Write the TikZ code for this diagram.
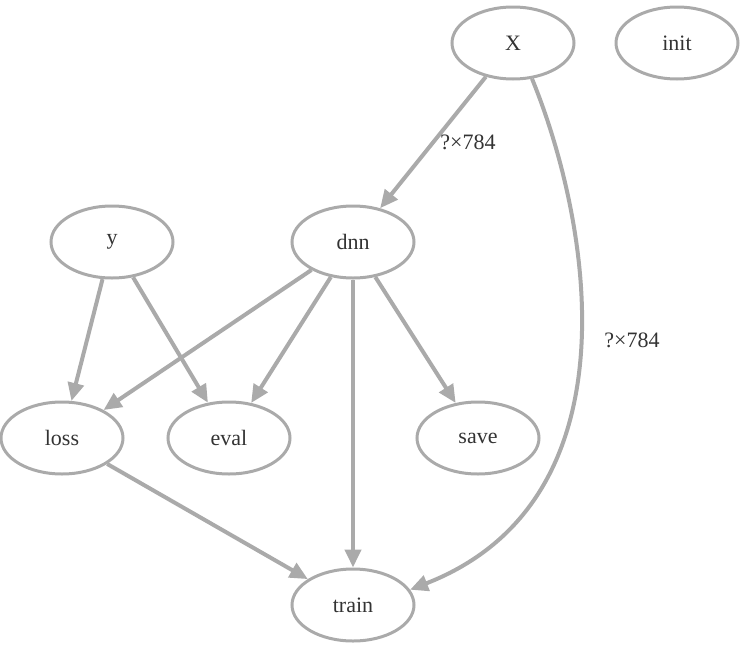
\documentclass[tikz,border=0pt]{standalone}
\usepackage{fontspec}
\setmainfont{Liberation Serif}
\usetikzlibrary{arrows.meta,shapes.geometric}
\definecolor{edg}{HTML}{AAAAAA}
\definecolor{txt}{HTML}{333333}
\begin{document}
\begin{tikzpicture}[x=1pt,y=-1pt,
  nd/.style={ellipse,draw=edg,line width=3pt,minimum width=122pt,minimum height=72pt,inner sep=0pt,text=txt,font=\fontsize{22}{24}\selectfont},
  ed/.style={draw=edg,line width=4pt,-{Triangle[length=18pt,width=16pt]}},
  lb/.style={text=txt,font=\fontsize{22}{24}\selectfont}]
\useasboundingbox (0,0) rectangle (742,651);
\node[nd] (X) at (513,43) {X};
\node[nd] (init) at (677,43) {init};
\node[nd] (y) at (112,242) {y};
\node[nd] (dnn) at (353,242) {dnn};
\node[nd] (loss) at (62,438) {loss};
\node[nd] (eval) at (229,438) {eval};
\node[nd] (save) at (478,438) {save};
\node[nd] (train) at (353,605) {train};
\draw[ed] (X) -- (dnn) node[lb,pos=0.5,right=2pt] {?×784};
\draw[ed] (X.-62) .. controls (590,220) and (640,500) .. (train.15);
\node[lb] at (632,340) {?×784};
\draw[ed] (y) -- (loss);
\draw[ed] (y) -- (eval);
\draw[ed] (dnn) -- (loss);
\draw[ed] (dnn) -- (eval);
\draw[ed] (dnn) -- (save);
\draw[ed] (dnn) -- (train);
\draw[ed] (loss) -- (train);
\end{tikzpicture}
\end{document}
